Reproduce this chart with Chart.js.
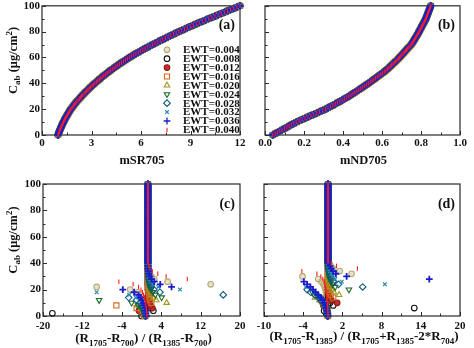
<!DOCTYPE html>
<html><head><meta charset="utf-8">
<script src="https://cdn.jsdelivr.net/npm/chart.js"></script>
<style>
html,body{margin:0;padding:0;background:#fff;}
#wrap{position:relative;width:474px;height:348px;overflow:hidden;}
#wrap canvas{position:absolute;left:0;top:0;width:474px;height:348px;}
</style></head><body>
<div id="wrap">
<canvas id="ca" width="474" height="348"></canvas>
<canvas id="cb" width="474" height="348"></canvas>
<canvas id="cc" width="474" height="348"></canvas>
<canvas id="cd" width="474" height="348"></canvas>
</div>
<script>
// ---------------- DATA ----------------
const EWT_LABELS = ['EWT=0.004','EWT=0.008','EWT=0.012','EWT=0.016','EWT=0.020','EWT=0.024','EWT=0.028','EWT=0.032','EWT=0.036','EWT=0.040'];

// Cab (ug/cm2) for panels (a),(b)
const CAB = [0,1,2,3,4,5,6,7,8,9,10,11,12,13,14,15,16,17,18,19,20,21,22,23,24,25,26,27,28,29,30,31,32,33,34,35,36,37,38,39,40,41,42,43,44,45,46,47,48,49,50,51,52,53,54,55,56,57,58,59,60,61,62,63,64,65,66,67,68,69,70,71,72,73,74,75,76,77,78,79,80,81,82,83,84,85,86,87,88,89,90,91,92,93,94,95,96,97,98,99,100];
const MSR705 = [0.97,1.00,1.03,1.06,1.09,1.12,1.16,1.19,1.23,1.26,1.30,1.34,1.38,1.42,1.47,1.51,1.56,1.60,1.65,1.70,1.75,1.81,1.87,1.93,1.99,2.05,2.12,2.19,2.26,2.33,2.40,2.47,2.55,2.62,2.70,2.78,2.86,2.94,3.03,3.11,3.20,3.29,3.38,3.47,3.56,3.65,3.75,3.85,3.95,4.05,4.15,4.26,4.37,4.48,4.59,4.70,4.82,4.94,5.06,5.18,5.30,5.43,5.56,5.69,5.83,5.97,6.11,6.25,6.40,6.55,6.70,6.85,7.01,7.16,7.32,7.48,7.64,7.80,7.97,8.13,8.30,8.47,8.64,8.81,8.99,9.17,9.35,9.53,9.72,9.91,10.10,10.29,10.48,10.67,10.86,11.05,11.24,11.43,11.62,11.81,12.00];
const MND705 = [0.040,0.052,0.064,0.076,0.088,0.100,0.112,0.124,0.136,0.148,0.160,0.175,0.190,0.205,0.220,0.235,0.250,0.265,0.280,0.295,0.310,0.323,0.335,0.348,0.360,0.372,0.384,0.396,0.407,0.419,0.430,0.441,0.451,0.461,0.471,0.481,0.491,0.501,0.511,0.521,0.530,0.540,0.549,0.558,0.567,0.576,0.585,0.594,0.603,0.612,0.620,0.628,0.635,0.642,0.649,0.656,0.663,0.670,0.677,0.684,0.690,0.696,0.702,0.708,0.714,0.720,0.726,0.732,0.738,0.744,0.750,0.755,0.759,0.763,0.767,0.771,0.775,0.779,0.783,0.787,0.790,0.794,0.797,0.801,0.804,0.808,0.811,0.815,0.818,0.822,0.825,0.828,0.830,0.833,0.835,0.838,0.840,0.843,0.845,0.848,0.850];

// Cab split for panels (c),(d)
const CAB_LOW = [0,2,4,6,8,10,12,14,16,18,20,22,24,26,28,30,32,34,36,38,40];
const CAB_HIGH = [41,42,43,44,45,46,47,48,49,50,51,52,53,54,55,56,57,58,59,60,61,62,63,64,65,66,67,68,69,70,71,72,73,74,75,76,77,78,79,80,81,82,83,84,85,86,87,88,89,90,91,92,93,94,95,96,97,98,99,100];

// Panel (c): (R1705-R700)/(R1385-R700)
const C_HIGH = [1.3,1.3,1.3,1.3,1.3,1.3,1.3,1.3,1.3,1.3,1.3,1.3,1.3,1.3,1.3,1.3,1.3,1.3,1.3,1.3,1.3,1.3,1.3,1.3,1.3,1.3,1.3,1.3,1.3,1.3,1.3,1.3,1.3,1.3,1.3,1.3,1.3,1.3,1.3,1.3,1.3,1.3,1.3,1.3,1.3,1.3,1.3,1.3,1.3,1.3,1.3,1.3,1.3,1.3,1.3,1.3,1.3,1.3,1.3,1.3];
const C_004 = [1.0,0.9,0.9,0.8,0.7,0.6,0.4,0.2,-0.2,-0.8,-2.3,-9.1,14.05,5.3,2.6,2.0,1.6,1.4,1.35,1.3,1.3];
const C_008 = [0.0,-18.1,2.4,1.8,1.6,1.5,1.4,1.4,1.35,1.35,1.3,1.3,1.3,1.3,1.3,1.3,1.3,1.3,1.3,1.3,1.3];
const C_012 = [0.6,0.3,-0.5,2.2,1.8,1.6,1.5,1.45,1.4,1.4,1.35,1.35,1.3,1.3,1.3,1.3,1.3,1.3,1.3,1.3,1.3];
const C_016 = [0.6,0.4,0.0,-1.0,-5.1,2.0,1.7,1.6,1.5,1.45,1.4,1.4,1.35,1.35,1.3,1.3,1.3,1.3,1.3,1.3,1.3];
const C_020 = [0.7,0.6,0.4,0.0,-0.8,5.1,3.0,2.4,2.0,1.8,1.65,1.55,1.5,1.45,1.4,1.4,1.35,1.35,1.3,1.3,1.3];
const C_024 = [0.7,0.6,0.3,0.0,-0.7,-2.0,-8.6,4.1,2.8,2.3,1.9,1.7,1.6,1.5,1.45,1.4,1.4,1.35,1.35,1.3,1.3];
const C_028 = [0.8,0.7,0.6,0.4,0.1,-0.3,-1.0,-2.6,16.6,3.75,2.5,2.0,1.8,1.65,1.55,1.5,1.45,1.4,1.35,1.35,1.3];
const C_032 = [0.9,0.8,0.7,0.5,0.3,0.0,-0.5,-1.2,-2.5,-9.1,7.8,3.4,2.3,1.9,1.7,1.5,1.45,1.4,1.35,1.35,1.3];
const C_036 = [1.0,0.9,0.8,0.7,0.5,0.3,0.1,-0.2,-0.6,-1.5,-3.8,6.1,3.8,2.6,2.0,1.7,1.5,1.4,1.35,1.3,1.3];
const C_040 = [1.1,1.1,1.0,1.0,0.9,0.8,0.7,0.6,0.4,0.2,-0.1,-0.6,-1.7,-4.6,9.3,5.0,3.3,2.2,1.7,1.45,1.35];

// Panel (d): (R1705-R1385)/(R1705+R1385-2*R704)
const D_HIGH = [-0.2,-0.2,-0.2,-0.2,-0.2,-0.2,-0.2,-0.2,-0.2,-0.2,-0.2,-0.2,-0.2,-0.2,-0.2,-0.2,-0.2,-0.2,-0.2,-0.2,-0.2,-0.2,-0.2,-0.2,-0.2,-0.2,-0.2,-0.2,-0.2,-0.2,-0.2,-0.2,-0.2,-0.2,-0.2,-0.2,-0.2,-0.2,-0.2,-0.2,-0.2,-0.2,-0.2,-0.2,-0.2,-0.2,-0.2,-0.2,-0.2,-0.2,-0.2,-0.2,-0.2,-0.2,-0.2,-0.2,-0.2,-0.2,-0.2,-0.2];
const D_004 = [-0.2,-0.2,-0.25,-0.25,-0.3,-0.3,-0.35,-0.4,-0.45,-0.5,-0.6,-0.7,-0.9,-1.2,-1.7,-4.1,3.4,1.6,0.6,0.2,0.0];
const D_008 = [-0.2,-0.4,-0.8,13.0,0.6,0.1,-0.1,-0.15,-0.2,-0.2,-0.2,-0.2,-0.2,-0.2,-0.2,-0.2,-0.2,-0.2,-0.2,-0.2,-0.2];
const D_012 = [-0.25,-0.3,-0.35,-0.5,-0.9,1.2,0.3,0.0,-0.1,-0.15,-0.2,-0.2,-0.2,-0.2,-0.2,-0.2,-0.2,-0.2,-0.2,-0.2,-0.2];
const D_016 = [-0.25,-0.3,-0.35,-0.45,-0.6,-0.9,-1.3,0.6,0.2,0.0,-0.1,-0.15,-0.2,-0.2,-0.2,-0.2,-0.2,-0.2,-0.2,-0.2,-0.2];
const D_020 = [-0.25,-0.3,-0.4,-0.5,-0.7,-1.0,-1.5,-2.2,1.5,0.7,0.4,0.15,0.0,-0.1,-0.15,-0.2,-0.2,-0.2,-0.2,-0.2,-0.2];
const D_024 = [-0.25,-0.3,-0.35,-0.45,-0.6,-0.8,-1.1,-1.5,-2.0,-2.6,3.0,0.9,0.5,0.25,0.1,0.0,-0.1,-0.15,-0.2,-0.2,-0.2];
const D_028 = [-0.25,-0.3,-0.4,-0.5,-0.7,-1.0,-1.3,-1.7,-2.2,-2.85,-3.4,5.1,1.4,0.6,0.4,0.2,0.1,0.0,-0.1,-0.15,-0.2];
const D_032 = [-0.25,-0.3,-0.4,-0.5,-0.6,-0.8,-1.1,-1.5,-1.9,-2.4,-3.0,-3.6,8.5,1.9,0.9,0.5,0.3,0.1,0.0,-0.1,-0.15];
const D_036 = [-0.25,-0.3,-0.4,-0.5,-0.6,-0.8,-1.0,-1.3,-1.7,-2.1,-2.5,-2.9,-3.4,-3.9,15.3,2.65,1.0,0.6,0.3,0.1,-0.1];
const D_040 = [-0.2,-0.2,-0.25,-0.25,-0.3,-0.3,-0.35,-0.4,-0.45,-0.5,-0.55,-0.6,-0.7,-0.8,-1.0,-1.3,-1.9,-4.2,4.3,1.1,0.3];

// tick values
const TICKS_A_X = [0,3,6,9,12], MINOR_A_X = [1.5,4.5,7.5,10.5];
const TICKS_B_X = [0,0.2,0.4,0.6,0.8,1.0], MINOR_B_X = [0.1,0.3,0.5,0.7,0.9];
const TICKS_C_X = [-20,-12,-4,4,12,20], MINOR_C_X = [-16,-8,0,8,16];
const TICKS_D_X = [-10,-4,2,8,14,20], MINOR_D_X = [-7,-1,5,11,17];
const TICKS_Y = [0,20,40,60,80,100], MINOR_Y = [10,30,50,70,90];

const C_SERIES = [C_004,C_008,C_012,C_016,C_020,C_024,C_028,C_032,C_036,C_040];
const D_SERIES = [D_004,D_008,D_012,D_016,D_020,D_024,D_028,D_032,D_036,D_040];

// ---------------- STYLE ----------------
const FAM = "'Liberation Serif','Times New Roman',serif";
const STYLES = [
  {ps:'circle', r:2.8, bc:'#b8a870', bg:'rgba(200,190,150,0.45)', rot:0, bw:1.1},
  {ps:'circle', r:2.8, bc:'#111111', bg:'rgba(0,0,0,0)', rot:0, bw:1.1},
  {ps:'circle', r:2.8, bc:'#8e1616', bg:'#c8302c', rot:0, bw:1.1},
  {ps:'rect', r:3.6, bc:'#d6641c', bg:'rgba(0,0,0,0)', rot:0, bw:1.1},
  {ps:'triangle', r:3.2, bc:'#a09a22', bg:'rgba(0,0,0,0)', rot:0, bw:1.1},
  {ps:'triangle', r:3.2, bc:'#1d6a22', bg:'rgba(0,0,0,0)', rot:180, bw:1.1},
  {ps:'rectRot', r:3.3, bc:'#0d5a78', bg:'rgba(0,0,0,0)', rot:0, bw:1.1},
  {ps:'crossRot', r:2.6, bc:'#2a8ab8', bg:'rgba(0,0,0,0)', rot:0, bw:1.2},
  {ps:'cross', r:3.4, bc:'#1c1cc8', bg:'rgba(0,0,0,0)', rot:0, bw:1.8},
  {ps:'line', r:2.2, bc:'#ff1e1e', bg:'rgba(0,0,0,0)', rot:90, bw:1.1}
];

function makeDatasets(builder) {
  return EWT_LABELS.map((lab, i) => ({
    label: lab,
    data: builder(i),
    pointStyle: STYLES[i].ps,
    pointRadius: STYLES[i].r,
    pointRotation: STYLES[i].rot,
    pointBorderWidth: STYLES[i].bw,
    borderColor: STYLES[i].bc,
    backgroundColor: STYLES[i].bg,
    pointBorderColor: STYLES[i].bc,
    pointBackgroundColor: STYLES[i].bg,
    showLine: false,
    clip: false,
    order: 10 - i
  }));
}

function drawRich(ctx, parts, x, y, size, align) {
  const small = Math.round(size * 0.72);
  let w = 0;
  const ws = parts.map(([t, k]) => {
    ctx.font = 'bold ' + (k ? small : size) + 'px ' + FAM;
    const m = ctx.measureText(t).width; w += m; return m;
  });
  let cx = align === 'center' ? x - w / 2 : x;
  ctx.textAlign = 'left'; ctx.textBaseline = 'alphabetic'; ctx.fillStyle = '#111';
  parts.forEach(([t, k], i) => {
    ctx.font = 'bold ' + (k ? small : size) + 'px ' + FAM;
    const dy = k === 1 ? size * 0.28 : (k === 2 ? -size * 0.38 : 0);
    ctx.fillText(t, cx, y + dy);
    cx += ws[i];
  });
}

const YTITLE = [['C',0],['ab',1],[' (\u03bcg/cm',0],['2',2],[')',0]];

function makeDeco(cfg) {
  return {
    id: 'deco',
    beforeDatasetsDraw(chart) {
      const ctx = chart.ctx, a = chart.chartArea, xs = chart.scales.x, ys = chart.scales.y;
      ctx.save();
      ctx.strokeStyle = '#2a2a2a'; ctx.lineWidth = 1.2;
      ctx.strokeRect(a.left, a.top, a.right - a.left, a.bottom - a.top);
      ctx.lineWidth = 1;
      ctx.beginPath();
      cfg.xMajor.forEach(v => { const p = Math.round(xs.getPixelForValue(v)) + 0.5; ctx.moveTo(p, a.bottom); ctx.lineTo(p, a.bottom - 4); });
      cfg.xMinor.forEach(v => { const p = Math.round(xs.getPixelForValue(v)) + 0.5; ctx.moveTo(p, a.bottom); ctx.lineTo(p, a.bottom - 2.5); });
      TICKS_Y.forEach(v => { const p = Math.round(ys.getPixelForValue(v)) + 0.5; ctx.moveTo(a.left, p); ctx.lineTo(a.left + 4, p); });
      MINOR_Y.forEach(v => { const p = Math.round(ys.getPixelForValue(v)) + 0.5; ctx.moveTo(a.left, p); ctx.lineTo(a.left + 2.5, p); });
      ctx.stroke();
      ctx.restore();
    },
    afterDraw(chart) {
      const ctx = chart.ctx, a = chart.chartArea;
      ctx.save();
      ctx.font = 'bold 14px ' + FAM; ctx.fillStyle = '#111'; ctx.textAlign = 'right'; ctx.textBaseline = 'middle';
      ctx.fillText(cfg.panel, a.right - 5, a.top + 20);
      drawRich(ctx, cfg.xTitle, (a.left + a.right) / 2 + cfg.xTitleDx, a.bottom + cfg.xTitleDy, cfg.xTitleSize, 'center');
      if (cfg.yTitle) {
        ctx.save();
        ctx.translate(12, (a.top + a.bottom) / 2 - 10);
        ctx.rotate(-Math.PI / 2);
        drawRich(ctx, YTITLE, 0, 4.5, 12.5, 'center');
        ctx.restore();
      }
      if (cfg.legend) {
        const H = Chart.helpers;
        EWT_LABELS.forEach((lab, i) => {
          const y = a.top + 44 + i * 8.9;
          const mx = a.right - 73;
          const st = STYLES[i];
          ctx.save();
          ctx.strokeStyle = st.bc; ctx.fillStyle = st.bg; ctx.lineWidth = Math.min(st.bw, 1.3);
          if (H && H.drawPoint) {
            H.drawPoint(ctx, {pointStyle: st.ps, rotation: st.rot, radius: st.r, borderWidth: 1.1}, mx, y);
          }
          ctx.restore();
          ctx.font = 'bold 11px ' + FAM; ctx.fillStyle = '#111'; ctx.textAlign = 'left'; ctx.textBaseline = 'middle';
          ctx.fillText(lab, a.right - 57, y + 0.5);
        });
      }
      ctx.restore();
    }
  };
}

function axisX(min, max, step, fmt, pad) {
  return {
    type: 'linear', position: 'bottom', min: min, max: max,
    ticks: { stepSize: step, autoSkip: false, maxRotation: 0, color: '#111', padding: pad,
             font: { family: FAM, size: 11, weight: 'bold' }, callback: fmt || (v => String(v)) },
    grid: { display: false, drawTicks: false, tickLength: 0 },
    border: { display: false },
    afterFit: s => { s.height = 20; s.paddingLeft = 0; s.paddingRight = 0; }
  };
}
function axisY(showLabels, w) {
  return {
    type: 'linear', position: 'left', min: 0, max: 100,
    ticks: { stepSize: 20, display: showLabels, color: '#111', padding: 2,
             font: { family: FAM, size: 11, weight: 'bold' } },
    grid: { display: false, drawTicks: false, tickLength: 0 },
    border: { display: false },
    afterFit: s => { s.width = w; s.paddingTop = 0; s.paddingBottom = 0; }
  };
}

function makeChart(id, datasets, xAxis, yAxis, padding, deco) {
  return new Chart(document.getElementById(id), {
    type: 'scatter',
    data: { datasets: datasets },
    options: {
      responsive: false, animation: false, devicePixelRatio: 1,
      layout: { padding: padding },
      plugins: { legend: { display: false }, tooltip: { enabled: false } },
      events: [],
      scales: { x: xAxis, y: yAxis }
    },
    plugins: [makeDeco(deco)]
  });
}

// (a)
makeChart('ca',
  makeDatasets(i => CAB.map((c, k) => ({ x: MSR705[k], y: c }))),
  axisX(0, 12, 3, null, 2), axisY(true, 30),
  { left: 12, right: 234, top: 4, bottom: 193 },
  { panel: '(a)', xMajor: TICKS_A_X, xMinor: MINOR_A_X, xTitle: [['mSR705',0]], xTitleSize: 12.5, xTitleDx: 1, xTitleDy: 29, yTitle: true, legend: true });

// (b)
makeChart('cb',
  makeDatasets(i => CAB.map((c, k) => ({ x: MND705[k], y: c }))),
  axisX(0, 1, 0.2, v => v.toFixed(1), 2), axisY(false, 10),
  { left: 255, right: 14, top: 4, bottom: 193 },
  { panel: '(b)', xMajor: TICKS_B_X, xMinor: MINOR_B_X, xTitle: [['mND705',0]], xTitleSize: 12.5, xTitleDx: 1, xTitleDy: 29, yTitle: false, legend: false });

// (c)
makeChart('cc',
  makeDatasets(i => CAB_LOW.map((c, k) => ({ x: C_SERIES[i][k], y: c })).concat(CAB_HIGH.map((c, k) => ({ x: C_HIGH[k], y: c })))),
  axisX(-20, 20, 8, null, 4), axisY(true, 30),
  { left: 13, right: 234, top: 184, bottom: 12 },
  { panel: '(c)', xMajor: TICKS_C_X, xMinor: MINOR_C_X,
    xTitle: [['(R',0],['1705',1],['-R',0],['700',1],[') / (R',0],['1385',1],['-R',0],['700',1],[')',0]],
    xTitleSize: 13, xTitleDx: 2, xTitleDy: 26, yTitle: true, legend: false });

// (d)
makeChart('cd',
  makeDatasets(i => CAB_LOW.map((c, k) => ({ x: D_SERIES[i][k], y: c })).concat(CAB_HIGH.map((c, k) => ({ x: D_HIGH[k], y: c })))),
  axisX(-10, 20, 6, null, 4), axisY(false, 10),
  { left: 254, right: 14, top: 184, bottom: 12 },
  { panel: '(d)', xMajor: TICKS_D_X, xMinor: MINOR_D_X,
    xTitle: [['(R',0],['1705',1],['-R',0],['1385',1],[') / (R',0],['1705',1],['+R',0],['1385',1],['-2*R',0],['704',1],[')',0]],
    xTitleSize: 13, xTitleDx: 2, xTitleDy: 24, yTitle: false, legend: false });
</script>
</body></html>
